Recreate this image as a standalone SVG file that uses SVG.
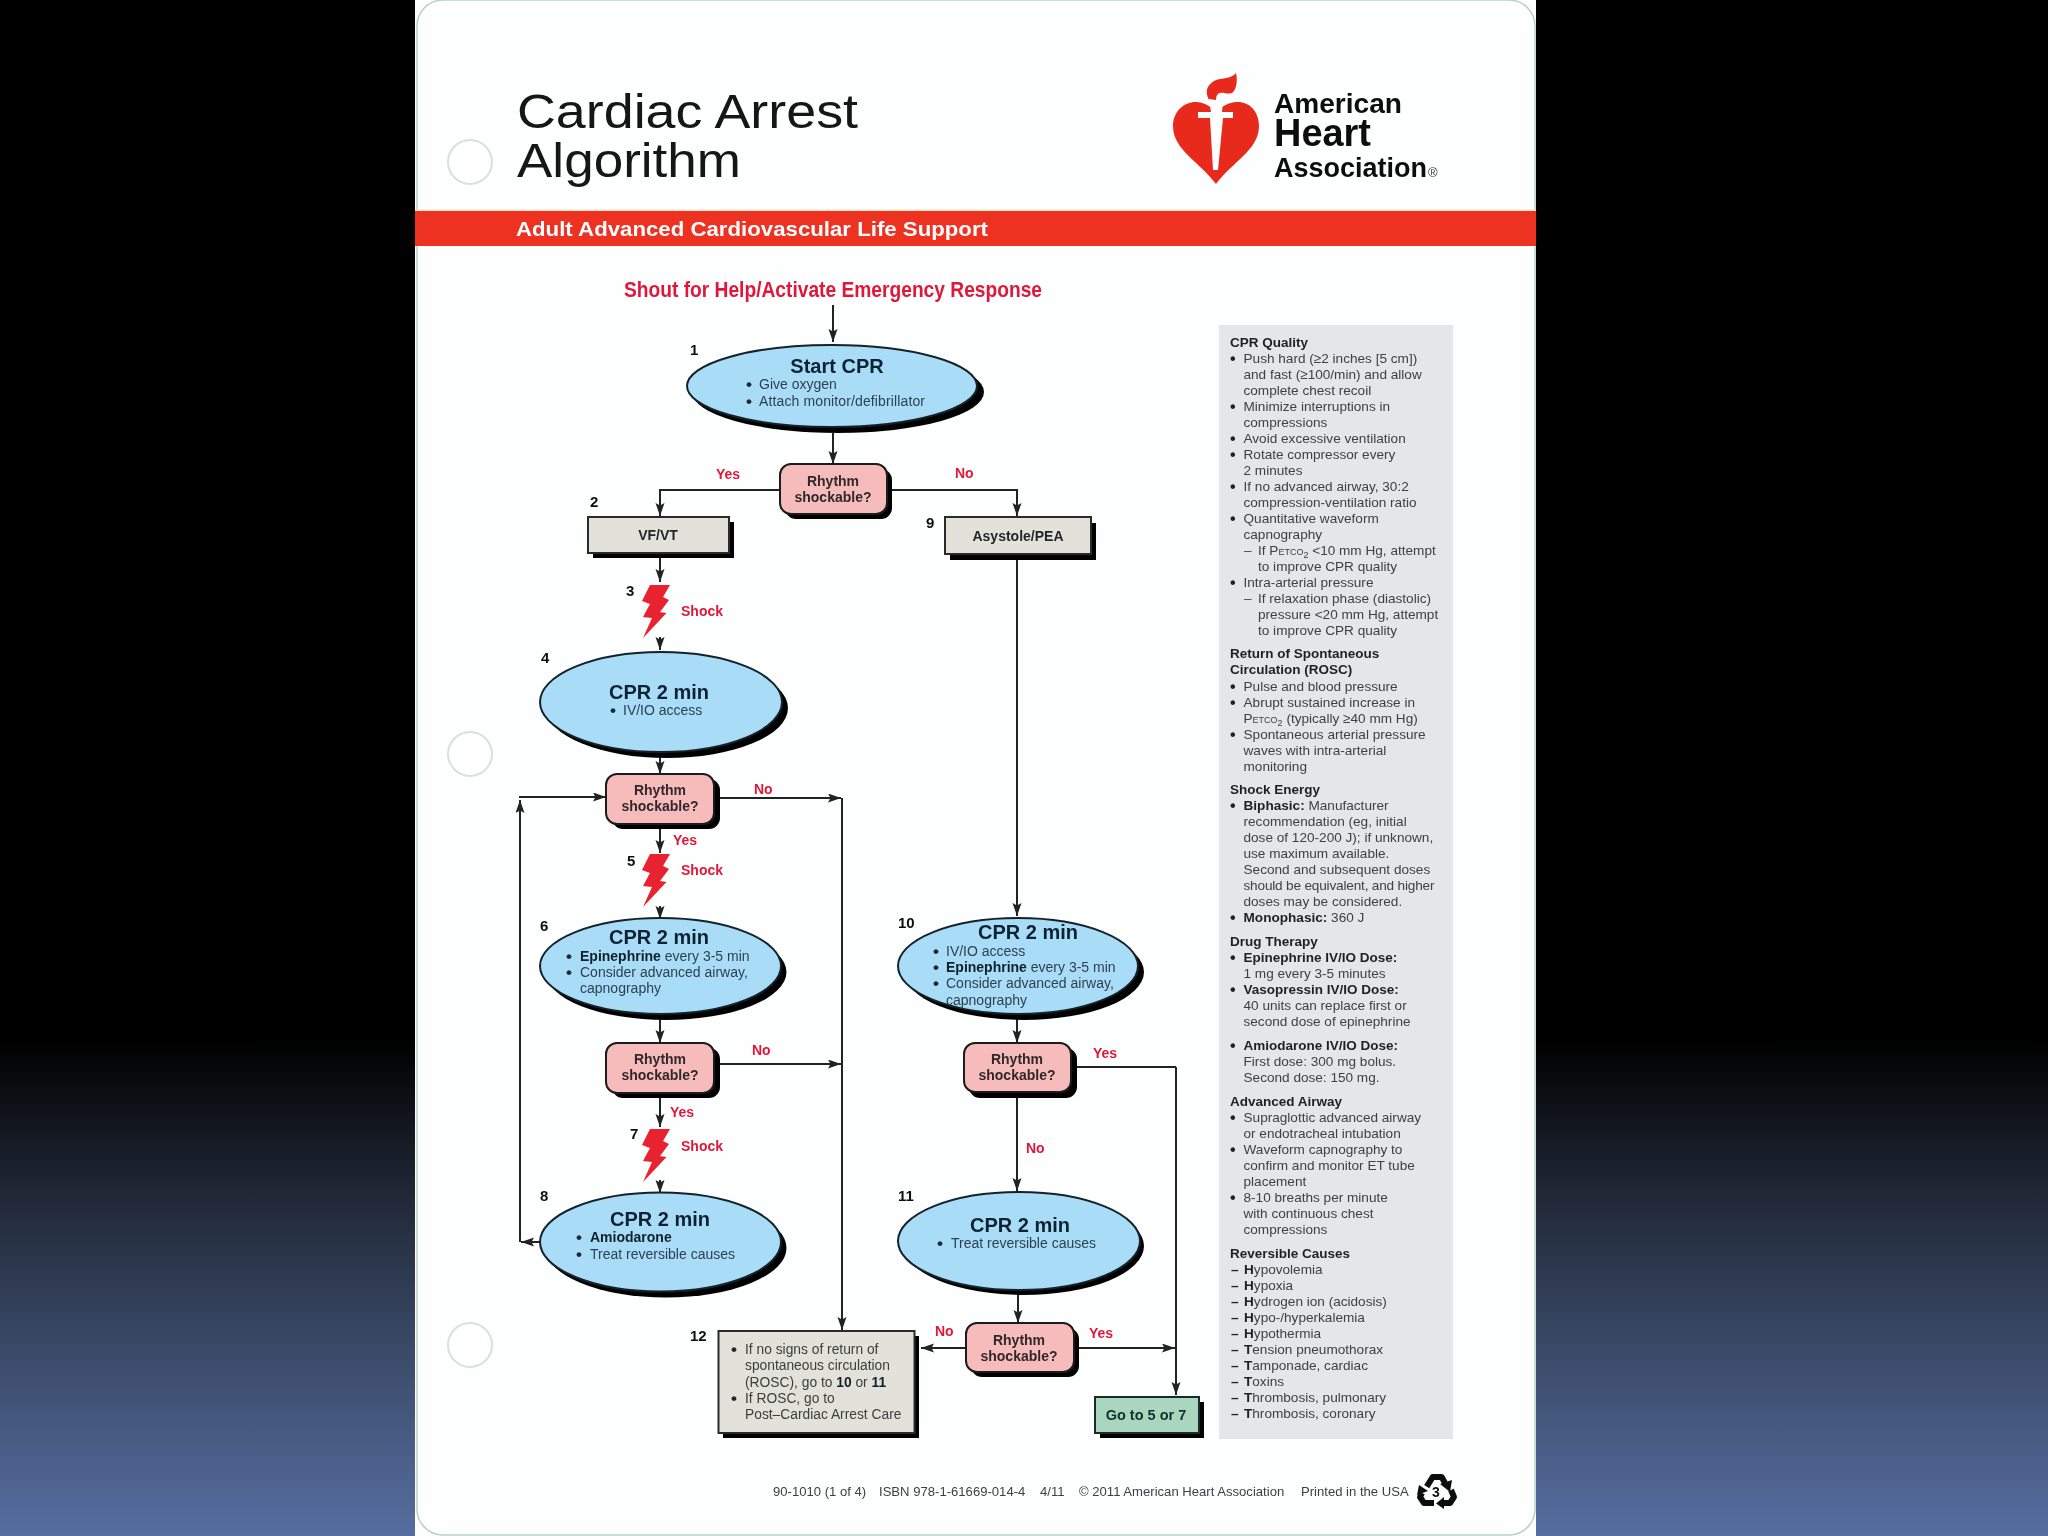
<svg xmlns="http://www.w3.org/2000/svg" width="2048" height="1536" viewBox="0 0 2048 1536">
<defs>
<linearGradient id="bg" gradientUnits="userSpaceOnUse" x1="0" y1="0" x2="0" y2="1536"><stop offset="0" stop-color="#000"/><stop offset="0.677" stop-color="#000"/><stop offset="0.78" stop-color="#212938"/><stop offset="0.879" stop-color="#3a4a68"/><stop offset="1" stop-color="#566ea0"/></linearGradient>
<marker id="a" markerWidth="15" markerHeight="12" refX="13" refY="4.500" orient="auto" markerUnits="userSpaceOnUse"><path d="M0 0L13 4.500L0 9L2.500 4.500Z" fill="#222"/></marker>
<polygon id="bolt" points="650,585 670,585 663,597 669,600 660,612 666.500,613 643,638 652,618 643,617 650,604 642,601" fill="#e8202e"/>
<filter id="soft" x="0" y="0" width="100%" height="100%"><feGaussianBlur stdDeviation="0.450"/></filter>
</defs>
<style>
text{font-family:"Liberation Sans",Arial,sans-serif;fill:#1c2a33}
.e{fill:#a9dcf6;stroke:#14222c;stroke-width:2}
.s{fill:#050505}
.r{fill:#f6bcbc;stroke:#1c1c1c;stroke-width:2}
.b{fill:#e2e2da;stroke:#2a2a2a;stroke-width:2}
.rt{font-size:14px;font-weight:700;text-anchor:middle;fill:#30272a}
.bt{font-size:14px;font-weight:700;text-anchor:middle;fill:#22282a}
.h{font-size:20px;font-weight:700;text-anchor:middle;fill:#0e2433}
.t{font-size:14px;fill:#2c4252}
.u{font-size:17px;font-weight:700;fill:#1c2a33}
.d{font-weight:700;fill:#10202a}
.n{font-size:15px;font-weight:700;fill:#111}
.y{font-size:14px;font-weight:700;fill:#e2183a}
.p{font-size:13.600px;fill:#3d4246}
.ph{font-size:13.500px;font-weight:700;fill:#1e2224}
.pb{font-weight:700;fill:#1e2224}
.pu{font-size:16px;font-weight:700;fill:#1e2224}
.c{fill:none;stroke:#222;stroke-width:2;marker-end:url(#a)}
.l{fill:none;stroke:#222;stroke-width:2}
.f{font-size:13.100px;fill:#3c3f42}
.x{font-size:13.800px;fill:#3a3f3c}
.o{font-size:9px}
.w{fill:none;stroke:#111;stroke-width:6;stroke-linejoin:round}
</style>
<rect width="2048" height="1536" fill="url(#bg)"/>
<g filter="url(#soft)">
<g id="page">
<rect x="415" y="0" width="1121" height="1536" fill="#fdfefe"/>
<rect x="417" y="0" width="1118" height="1535" rx="26" fill="none" stroke="#b8d2ca" stroke-width="1.500"/>
<circle cx="470" cy="162" r="22" fill="#fff" stroke="#d5e2de" stroke-width="2"/>
<circle cx="470" cy="754" r="22" fill="#fff" stroke="#d5e2de" stroke-width="2"/>
<circle cx="470" cy="1345" r="22" fill="#fff" stroke="#d5e2de" stroke-width="2"/>
<text x="517" y="128" font-size="48" style="fill:#161616" textLength="341" lengthAdjust="spacingAndGlyphs">Cardiac Arrest</text>
<text x="517" y="177" font-size="48" style="fill:#161616" textLength="224" lengthAdjust="spacingAndGlyphs">Algorithm</text>
<rect x="415" y="209.500" width="1121" height="2" fill="#f8e6c8"/>
<rect x="415" y="211" width="1121" height="35" fill="#ee3124"/>
<text x="516" y="236" font-size="21" font-weight="700" style="fill:#fff" textLength="472" lengthAdjust="spacingAndGlyphs">Adult Advanced Cardiovascular Life Support</text>
</g>
<g id="logo">
<path d="M1216 184C1200 162 1173 150 1173 126C1173 110 1186 101 1197 102C1207 103 1213 108 1216 114C1219 108 1226 103 1236 102C1248 101 1259 110 1259 126C1259 150 1232 162 1216 184Z" fill="#e8291c"/>
<path d="M1209 100C1204 90 1208 84 1216 80C1224 78 1232 78 1236 73C1238 82 1236 90 1232 93C1227 95 1222 91 1218 94C1216 96 1216 98 1216 101Z" fill="#e8291c"/>
<path d="M1209 99L1223 101L1222 112H1233V118H1223L1218 170H1213L1210 118H1198V112H1211Z" fill="#fff"/>
<text x="1274" y="113" font-size="28" font-weight="700" style="fill:#111" textLength="128" lengthAdjust="spacingAndGlyphs">American</text>
<text x="1274" y="146" font-size="38" font-weight="700" style="fill:#111" textLength="97" lengthAdjust="spacingAndGlyphs">Heart</text>
<text x="1274" y="177" font-size="28" font-weight="700" style="fill:#111" textLength="153" lengthAdjust="spacingAndGlyphs">Association</text>
<text x="1428" y="177" font-size="13" style="fill:#333">®</text>
</g>
<g id="connectors">
<path class="c" d="M833 305V342"/>
<path class="c" d="M833 433V464"/>
<path class="c" d="M780 490H660V516"/>
<path class="c" d="M892 490H1017V516"/>
<path class="c" d="M660 558V582"/>
<path class="c" d="M660 637V650"/>
<path class="c" d="M660 757V774"/>
<path class="c" d="M720 798H841"/>
<path class="c" d="M842 798V1330"/>
<path class="c" d="M660 828V853"/>
<path class="c" d="M660 906V919"/>
<path class="c" d="M660 1019V1043"/>
<path class="c" d="M720 1064H841"/>
<path class="c" d="M660 1097V1127"/>
<path class="c" d="M660 1180V1193"/>
<path class="c" d="M540 1242H521"/>
<path class="c" d="M520 1242V800"/>
<path class="c" d="M519 797H606"/>
<path class="c" d="M1017 560V916"/>
<path class="c" d="M1017 1019V1043"/>
<path class="l" d="M1077 1067H1176"/>
<path class="c" d="M1176 1067V1395"/>
<path class="c" d="M1017 1097V1191"/>
<path class="c" d="M1018 1295V1323"/>
<path class="c" d="M966 1348H921"/>
<path class="c" d="M1079 1348H1175"/>
</g>
<g id="title-shout"><text x="624" y="297" font-size="22" font-weight="700" style="fill:#e2183a" textLength="418" lengthAdjust="spacingAndGlyphs">Shout for Help/Activate Emergency Response</text></g>
<g id="n1">
<ellipse class="s" cx="838" cy="392" rx="146" ry="41"/><ellipse class="e" cx="832" cy="386" rx="145" ry="41"/>
<text class="n" x="690" y="355">1</text><text class="h" x="837" y="373">Start CPR</text>
<text class="u" x="746" y="390">•</text><text class="t" x="759" y="389">Give oxygen</text>
<text class="u" x="746" y="407">•</text><text class="t" x="759" y="406" textLength="166">Attach monitor/defibrillator</text>
</g>
<g id="d1"><rect class="s" x="785" y="469" width="107" height="50" rx="11"/><rect class="r" x="780" y="464" width="107" height="50" rx="11"/><text class="rt" x="833" y="486">Rhythm</text><text class="rt" x="833" y="502">shockable?</text></g>
<text class="y" x="716" y="479">Yes</text><text class="y" x="955" y="478">No</text>
<g id="n2"><rect class="s" x="593" y="522" width="141" height="36"/><rect class="b" x="588" y="517" width="141" height="36"/><text class="n" x="590" y="507">2</text><text class="bt" x="658" y="540">VF/VT</text></g>
<g id="n9"><rect class="s" x="950" y="523" width="146" height="37"/><rect class="b" x="945" y="517" width="146" height="37"/><text class="n" x="926" y="528">9</text><text class="bt" x="1018" y="541">Asystole/PEA</text></g>
<g id="n3"><use href="#bolt"/><text class="n" x="626" y="596">3</text><text class="y" x="681" y="616">Shock</text></g>
<g id="n4">
<ellipse class="s" cx="667" cy="708" rx="121" ry="50"/><ellipse class="e" cx="661" cy="702" rx="121" ry="50"/>
<text class="n" x="541" y="663">4</text><text class="h" x="659" y="699">CPR 2 min</text>
<text class="u" x="610" y="716">•</text><text class="t" x="623" y="715">IV/IO access</text>
</g>
<g id="d2"><rect class="s" x="612" y="779" width="108" height="50" rx="11"/><rect class="r" x="606" y="774" width="108" height="50" rx="11"/><text class="rt" x="660" y="795">Rhythm</text><text class="rt" x="660" y="811">shockable?</text></g>
<text class="y" x="754" y="794">No</text><text class="y" x="673" y="845">Yes</text>
<g id="n5"><use href="#bolt" y="269"/><text class="n" x="627" y="866">5</text><text class="y" x="681" y="875">Shock</text></g>
<g id="n6">
<ellipse class="s" cx="666" cy="972" rx="120.500" ry="48"/><ellipse class="e" cx="660.500" cy="966" rx="120.500" ry="48"/>
<text class="n" x="540" y="931">6</text><text class="h" x="659" y="944">CPR 2 min</text>
<text class="u" x="566" y="962">•</text><text class="t" x="580" y="961"><tspan class="d">Epinephrine</tspan> every 3-5 min</text>
<text class="u" x="566" y="978">•</text><text class="t" x="580" y="977">Consider advanced airway,</text>
<text class="t" x="580" y="993">capnography</text>
</g>
<g id="d3"><rect class="s" x="612" y="1048" width="108" height="50" rx="11"/><rect class="r" x="606" y="1043" width="108" height="50" rx="11"/><text class="rt" x="660" y="1064">Rhythm</text><text class="rt" x="660" y="1080">shockable?</text></g>
<text class="y" x="752" y="1055">No</text><text class="y" x="670" y="1117">Yes</text>
<g id="n7"><use href="#bolt" y="544"/><text class="n" x="630" y="1139">7</text><text class="y" x="681" y="1151">Shock</text></g>
<g id="n8">
<ellipse class="s" cx="666" cy="1248" rx="120.500" ry="49.500"/><ellipse class="e" cx="660.500" cy="1242" rx="120.500" ry="49.500"/>
<text class="n" x="540" y="1201">8</text><text class="h" x="660" y="1226">CPR 2 min</text>
<text class="u" x="576" y="1243">•</text><text class="t" x="590" y="1242"><tspan class="d">Amiodarone</tspan></text>
<text class="u" x="576" y="1260">•</text><text class="t" x="590" y="1259">Treat reversible causes</text>
</g>
<g id="n10">
<ellipse class="s" cx="1024" cy="972" rx="120" ry="48"/><ellipse class="e" cx="1018" cy="966" rx="120" ry="48"/>
<text class="n" x="898" y="928">10</text><text class="h" x="1028" y="939">CPR 2 min</text>
<text class="u" x="933" y="957">•</text><text class="t" x="946" y="956">IV/IO access</text>
<text class="u" x="933" y="973">•</text><text class="t" x="946" y="972"><tspan class="d">Epinephrine</tspan> every 3-5 min</text>
<text class="u" x="933" y="989">•</text><text class="t" x="946" y="988">Consider advanced airway,</text>
<text class="t" x="946" y="1005">capnography</text>
</g>
<g id="d4"><rect class="s" x="969" y="1048" width="108" height="50" rx="11"/><rect class="r" x="964" y="1043" width="107" height="49" rx="11"/><text class="rt" x="1017" y="1064">Rhythm</text><text class="rt" x="1017" y="1080">shockable?</text></g>
<text class="y" x="1093" y="1058">Yes</text><text class="y" x="1026" y="1153">No</text>
<g id="n11">
<ellipse class="s" cx="1024" cy="1246" rx="120" ry="49"/><ellipse class="e" cx="1019" cy="1241" rx="121" ry="49"/>
<text class="n" x="898" y="1201">11</text><text class="h" x="1020" y="1232">CPR 2 min</text>
<text class="u" x="937" y="1249">•</text><text class="t" x="951" y="1248">Treat reversible causes</text>
</g>
<g id="d5"><rect class="s" x="971" y="1328" width="108" height="49" rx="11"/><rect class="r" x="966" y="1323" width="108" height="49" rx="11"/><text class="rt" x="1019" y="1345">Rhythm</text><text class="rt" x="1019" y="1361">shockable?</text></g>
<text class="y" x="935" y="1336">No</text><text class="y" x="1089" y="1338">Yes</text>
<g id="n12">
<rect class="s" x="723" y="1336" width="196" height="102"/><rect class="b" x="718.500" y="1331" width="196" height="102"/>
<text class="n" x="690" y="1341">12</text>
<text class="u" x="731" y="1355">•</text><text class="x" x="745" y="1354">If no signs of return of</text>
<text class="x" x="745" y="1370">spontaneous circulation</text>
<text class="x" x="745" y="1387">(ROSC), go to <tspan class="d">10</tspan> or <tspan class="d">11</tspan></text>
<text class="u" x="731" y="1404">•</text><text class="x" x="745" y="1403">If ROSC, go to</text>
<text class="x" x="745" y="1419">Post–Cardiac Arrest Care</text>
</g>
<g id="goto"><rect class="s" x="1100" y="1402" width="104" height="36"/><rect x="1095" y="1397" width="104" height="36" fill="#a9d6bf" stroke="#1e2a26" stroke-width="2"/><text x="1146" y="1420" font-size="14.500" font-weight="700" text-anchor="middle" style="fill:#12302a">Go to 5 or 7</text></g>
<g id="panel">
<rect x="1219" y="325" width="234" height="1114" fill="#e4e6e8"/>
<text class="ph" x="1230" y="347">CPR Quality</text>
<text class="pu" x="1230" y="364">•</text><text class="p" x="1243.500" y="363">Push hard (≥2 inches [5 cm])</text>
<text class="p" x="1243.500" y="379">and fast (≥100/min) and allow</text>
<text class="p" x="1243.500" y="395">complete chest recoil</text>
<text class="pu" x="1230" y="412">•</text><text class="p" x="1243.500" y="411">Minimize interruptions in</text>
<text class="p" x="1243.500" y="427">compressions</text>
<text class="pu" x="1230" y="444">•</text><text class="p" x="1243.500" y="443">Avoid excessive ventilation</text>
<text class="pu" x="1230" y="460">•</text><text class="p" x="1243.500" y="459">Rotate compressor every</text>
<text class="p" x="1243.500" y="475">2 minutes</text>
<text class="pu" x="1230" y="492">•</text><text class="p" x="1243.500" y="491">If no advanced airway, 30:2</text>
<text class="p" x="1243.500" y="507">compression-ventilation ratio</text>
<text class="pu" x="1230" y="524">•</text><text class="p" x="1243.500" y="523">Quantitative waveform</text>
<text class="p" x="1243.500" y="539">capnography</text>
<text class="p" x="1244" y="555">–</text><text class="p" x="1258" y="555">If P<tspan class="o">ETCO</tspan><tspan class="o" dy="3">2</tspan><tspan dy="-3"> &lt;10 mm Hg, attempt</tspan></text>
<text class="p" x="1258" y="571">to improve CPR quality</text>
<text class="pu" x="1230" y="588">•</text><text class="p" x="1243.500" y="587">Intra-arterial pressure</text>
<text class="p" x="1244" y="603">–</text><text class="p" x="1258" y="603">If relaxation phase (diastolic)</text>
<text class="p" x="1258" y="619">pressure &lt;20 mm Hg, attempt</text>
<text class="p" x="1258" y="635">to improve CPR quality</text>
<text class="ph" x="1230" y="658">Return of Spontaneous</text>
<text class="ph" x="1230" y="674">Circulation (ROSC)</text>
<text class="pu" x="1230" y="692">•</text><text class="p" x="1243.500" y="691">Pulse and blood pressure</text>
<text class="pu" x="1230" y="708">•</text><text class="p" x="1243.500" y="707">Abrupt sustained increase in</text>
<text class="p" x="1243.500" y="723">P<tspan class="o">ETCO</tspan><tspan class="o" dy="3">2</tspan><tspan dy="-3"> (typically ≥40 mm Hg)</tspan></text>
<text class="pu" x="1230" y="740">•</text><text class="p" x="1243.500" y="739">Spontaneous arterial pressure</text>
<text class="p" x="1243.500" y="755">waves with intra-arterial</text>
<text class="p" x="1243.500" y="771">monitoring</text>
<text class="ph" x="1230" y="794">Shock Energy</text>
<text class="pu" x="1230" y="811">•</text><text class="p" x="1243.500" y="810"><tspan class="pb">Biphasic:</tspan> Manufacturer</text>
<text class="p" x="1243.500" y="826">recommendation (eg, initial</text>
<text class="p" x="1243.500" y="842">dose of 120-200 J); if unknown,</text>
<text class="p" x="1243.500" y="858">use maximum available.</text>
<text class="p" x="1243.500" y="874">Second and subsequent doses</text>
<text class="p" x="1243.500" y="890" textLength="191">should be equivalent, and higher</text>
<text class="p" x="1243.500" y="906">doses may be considered.</text>
<text class="pu" x="1230" y="923">•</text><text class="p" x="1243.500" y="922"><tspan class="pb">Monophasic:</tspan> 360 J</text>
<text class="ph" x="1230" y="946">Drug Therapy</text>
<text class="pu" x="1230" y="963">•</text><text class="ph" x="1243.500" y="962">Epinephrine IV/IO Dose:</text>
<text class="p" x="1243.500" y="978">1 mg every 3-5 minutes</text>
<text class="pu" x="1230" y="995">•</text><text class="ph" x="1243.500" y="994">Vasopressin IV/IO Dose:</text>
<text class="p" x="1243.500" y="1010">40 units can replace first or</text>
<text class="p" x="1243.500" y="1026">second dose of epinephrine</text>
<text class="pu" x="1230" y="1051">•</text><text class="ph" x="1243.500" y="1050">Amiodarone IV/IO Dose:</text>
<text class="p" x="1243.500" y="1066">First dose: 300 mg bolus.</text>
<text class="p" x="1243.500" y="1082">Second dose: 150 mg.</text>
<text class="ph" x="1230" y="1106">Advanced Airway</text>
<text class="pu" x="1230" y="1123">•</text><text class="p" x="1243.500" y="1122">Supraglottic advanced airway</text>
<text class="p" x="1243.500" y="1138">or endotracheal intubation</text>
<text class="pu" x="1230" y="1155">•</text><text class="p" x="1243.500" y="1154">Waveform capnography to</text>
<text class="p" x="1243.500" y="1170">confirm and monitor ET tube</text>
<text class="p" x="1243.500" y="1186">placement</text>
<text class="pu" x="1230" y="1203">•</text><text class="p" x="1243.500" y="1202">8-10 breaths per minute</text>
<text class="p" x="1243.500" y="1218">with continuous chest</text>
<text class="p" x="1243.500" y="1234">compressions</text>
<text class="ph" x="1230" y="1258">Reversible Causes</text>
<text class="pb p" x="1231" y="1274">–</text><text class="p" x="1244" y="1274"><tspan class="pb">H</tspan>ypovolemia</text>
<text class="pb p" x="1231" y="1290">–</text><text class="p" x="1244" y="1290"><tspan class="pb">H</tspan>ypoxia</text>
<text class="pb p" x="1231" y="1306">–</text><text class="p" x="1244" y="1306"><tspan class="pb">H</tspan>ydrogen ion (acidosis)</text>
<text class="pb p" x="1231" y="1322">–</text><text class="p" x="1244" y="1322"><tspan class="pb">H</tspan>ypo-/hyperkalemia</text>
<text class="pb p" x="1231" y="1338">–</text><text class="p" x="1244" y="1338"><tspan class="pb">H</tspan>ypothermia</text>
<text class="pb p" x="1231" y="1354">–</text><text class="p" x="1244" y="1354"><tspan class="pb">T</tspan>ension pneumothorax</text>
<text class="pb p" x="1231" y="1370">–</text><text class="p" x="1244" y="1370"><tspan class="pb">T</tspan>amponade, cardiac</text>
<text class="pb p" x="1231" y="1386">–</text><text class="p" x="1244" y="1386"><tspan class="pb">T</tspan>oxins</text>
<text class="pb p" x="1231" y="1402">–</text><text class="p" x="1244" y="1402"><tspan class="pb">T</tspan>hrombosis, pulmonary</text>
<text class="pb p" x="1231" y="1418">–</text><text class="p" x="1244" y="1418"><tspan class="pb">T</tspan>hrombosis, coronary</text>
</g>
<g id="footer">
<text class="f" x="773" y="1496">90-1010 (1 of 4)</text>
<text class="f" x="879" y="1496">ISBN 978-1-61669-014-4</text>
<text class="f" x="1040" y="1496">4/11</text>
<text class="f" x="1079" y="1496">© 2011 American Heart Association</text>
<text class="f" x="1301" y="1496">Printed in the USA</text>
</g>
<g id="recycle">
<path class="w" d="M1426.700 1486.700L1432.700 1477H1441.700L1445 1483"/>
<path d="M1440 1484L1452 1480L1450 1492Z" fill="#111"/>
<path class="w" d="M1451 1490L1454 1497L1450 1503H1443"/>
<path d="M1444 1497L1436 1503.500L1444 1509Z" fill="#111"/>
<path class="w" d="M1434 1503H1424L1420 1497L1422 1493"/>
<path d="M1417 1495L1419 1485L1428 1491Z" fill="#111"/>
<text x="1436" y="1497" font-size="14" font-weight="700" text-anchor="middle" style="fill:#111">3</text>
</g>
</g>
</svg>
